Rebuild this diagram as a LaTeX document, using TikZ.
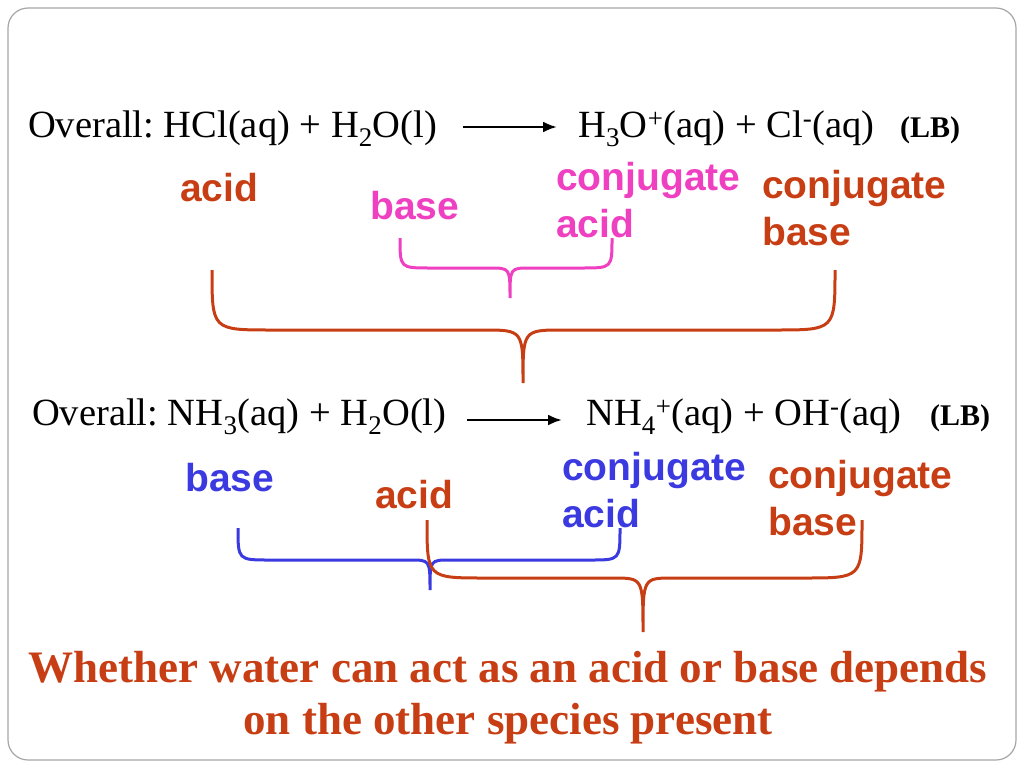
\documentclass[tikz,border=0pt]{standalone}
\usepackage{fontspec}
\setmainfont{Liberation Serif}
\setsansfont{Liberation Sans}
\frenchspacing
\begin{document}
\begin{tikzpicture}[x=1pt,y=-1pt,
  eq/.style={anchor=base west,inner sep=0,font=\fontsize{38.5}{42}\selectfont},
  lb/.style={anchor=base west,inner sep=0,font=\fontsize{30}{32}\selectfont\bfseries},
  lab/.style={anchor=west,inner sep=0,align=left,font=\sffamily\bfseries\fontsize{39}{47}\selectfont},
  br/.style={line width=3pt},
  arr/.style={line width=2.6pt,-{Latex[length=14pt,width=11pt]}}]
\usetikzlibrary{arrows.meta}
\definecolor{orng}{RGB}{200,62,20}
\definecolor{pnk}{RGB}{238,64,192}
\definecolor{blu}{RGB}{58,58,224}
\useasboundingbox (0,0) rectangle (1024,768);
\draw[gray!70,line width=1.2pt,rounded corners=20pt] (8,8) rectangle (1016,760);
% line 1
\node[eq] (l1) at (28,137) {Overall: HCl(aq) + H\textsubscript{2}O(l)};
\coordinate (a1s) at (463,127); \coordinate (a1e) at (557,127);
\draw[arr] (a1s) -- (a1e);
\node[eq] (r1) at (578,137) {H\textsubscript{3}O\textsuperscript{+}(aq) + Cl\textsuperscript{-}(aq)};
\node[lb] (lb1) at (900,137) {(LB)};
\node[lab,orng] (acid1) at (180,188) {acid};
\node[lab,pnk] (base1) at (370,206) {base};
\node[lab,pnk] (ca1) at (556,200) {conjugate\\acid};
\node[lab,orng] (cb1) at (762,208) {conjugate\\base};
% braces 1
\draw[br,pnk] (400,238) .. controls (400,268) .. (430,268) -- (490,268) .. controls (510,268) .. (510,298) .. controls (510,268) .. (530,268) -- (582,268) .. controls (612,268) .. (612,238);
\draw[br,orng] (212,270) .. controls (212,330) .. (272,330) -- (483,330) .. controls (523,330) .. (523,383) .. controls (523,330) .. (563,330) -- (775,330) .. controls (835,330) .. (835,270);
% line 2
\node[eq] (l2) at (32,425) {Overall: NH\textsubscript{3}(aq) + H\textsubscript{2}O(l)};
\coordinate (a2s) at (467,420); \coordinate (a2e) at (562,420);
\draw[arr] (a2s) -- (a2e);
\node[eq] (r2) at (586,425) {NH\textsubscript{4}\textsuperscript{+}(aq) + OH\textsuperscript{-}(aq)};
\node[lb] (lb2) at (930,425) {(LB)};
\node[lab,blu] (base2) at (185,478) {base};
\node[lab,orng] (acid2) at (375,495) {acid};
\node[lab,blu] (ca2) at (562,490) {conjugate\\acid};
\node[lab,orng] (cb2) at (768,498) {conjugate\\base};
% braces 2
\draw[br,blu] (238,528) .. controls (238,560) .. (270,560) -- (410,560) .. controls (430,560) .. (430,590) .. controls (430,560) .. (450,560) -- (590,560) .. controls (620,560) .. (620,528);
\draw[br,orng] (427,520) .. controls (427,578) .. (485,578) -- (613,578) .. controls (643,578) .. (643,632) .. controls (643,578) .. (673,578) -- (804,578) .. controls (862,578) .. (862,520);
% bottom
\node[orng,align=center,inner sep=0,font=\fontsize{45}{52}\selectfont\bfseries] (note) at (508,698) {Whether water can act as an acid or base depends\\on the other species present};
\end{tikzpicture}
\end{document}
